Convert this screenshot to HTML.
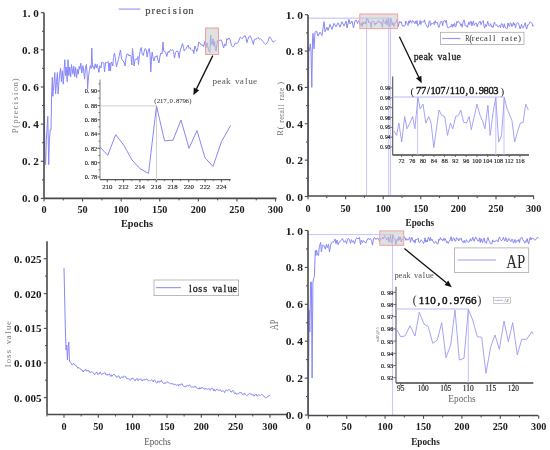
<!DOCTYPE html>
<html><head><meta charset="utf-8"><title>Training curves</title>
<style>html,body{margin:0;padding:0;background:#fff;}svg{display:block;}</style></head>
<body><svg width="550" height="450" viewBox="0 0 550 450">
<rect width="550" height="450" fill="#fff"/>
<line x1="100.00" y1="79.60" x2="100.00" y2="179.70" stroke="#8a8a8a" stroke-width="1.1" />
<line x1="100.00" y1="179.70" x2="230.70" y2="179.70" stroke="#555" stroke-width="1.3" />
<line x1="97.50" y1="91.00" x2="100.00" y2="91.00" stroke="#555" stroke-width="1" />
<text x="97.20" y="93.40" font-size="6.8" text-anchor="end" fill="#222" font-weight="normal" font-family='"Liberation Serif", serif' textLength="12.50" lengthAdjust="spacingAndGlyphs" stroke="#222" stroke-width="0.15">0. 90</text>
<line x1="97.50" y1="105.60" x2="100.00" y2="105.60" stroke="#555" stroke-width="1" />
<text x="97.20" y="108.00" font-size="6.8" text-anchor="end" fill="#222" font-weight="normal" font-family='"Liberation Serif", serif' textLength="12.50" lengthAdjust="spacingAndGlyphs" stroke="#222" stroke-width="0.15">0. 88</text>
<line x1="97.50" y1="119.80" x2="100.00" y2="119.80" stroke="#555" stroke-width="1" />
<text x="97.20" y="122.20" font-size="6.8" text-anchor="end" fill="#222" font-weight="normal" font-family='"Liberation Serif", serif' textLength="12.50" lengthAdjust="spacingAndGlyphs" stroke="#222" stroke-width="0.15">0. 86</text>
<line x1="97.50" y1="134.00" x2="100.00" y2="134.00" stroke="#555" stroke-width="1" />
<text x="97.20" y="136.40" font-size="6.8" text-anchor="end" fill="#222" font-weight="normal" font-family='"Liberation Serif", serif' textLength="12.50" lengthAdjust="spacingAndGlyphs" stroke="#222" stroke-width="0.15">0. 84</text>
<line x1="97.50" y1="148.30" x2="100.00" y2="148.30" stroke="#555" stroke-width="1" />
<text x="97.20" y="150.70" font-size="6.8" text-anchor="end" fill="#222" font-weight="normal" font-family='"Liberation Serif", serif' textLength="12.50" lengthAdjust="spacingAndGlyphs" stroke="#222" stroke-width="0.15">0. 82</text>
<line x1="97.50" y1="162.80" x2="100.00" y2="162.80" stroke="#555" stroke-width="1" />
<text x="97.20" y="165.20" font-size="6.8" text-anchor="end" fill="#222" font-weight="normal" font-family='"Liberation Serif", serif' textLength="12.50" lengthAdjust="spacingAndGlyphs" stroke="#222" stroke-width="0.15">0. 80</text>
<line x1="97.50" y1="177.00" x2="100.00" y2="177.00" stroke="#555" stroke-width="1" />
<text x="97.20" y="179.40" font-size="6.8" text-anchor="end" fill="#222" font-weight="normal" font-family='"Liberation Serif", serif' textLength="12.50" lengthAdjust="spacingAndGlyphs" stroke="#222" stroke-width="0.15">0. 78</text>
<line x1="98.50" y1="83.83" x2="100.00" y2="83.83" stroke="#666" stroke-width="0.9" />
<line x1="98.50" y1="98.16" x2="100.00" y2="98.16" stroke="#666" stroke-width="0.9" />
<line x1="98.50" y1="112.49" x2="100.00" y2="112.49" stroke="#666" stroke-width="0.9" />
<line x1="98.50" y1="126.82" x2="100.00" y2="126.82" stroke="#666" stroke-width="0.9" />
<line x1="98.50" y1="141.15" x2="100.00" y2="141.15" stroke="#666" stroke-width="0.9" />
<line x1="98.50" y1="155.48" x2="100.00" y2="155.48" stroke="#666" stroke-width="0.9" />
<line x1="98.50" y1="169.81" x2="100.00" y2="169.81" stroke="#666" stroke-width="0.9" />
<line x1="107.30" y1="179.70" x2="107.30" y2="182.20" stroke="#555" stroke-width="1" />
<text x="107.30" y="188.60" font-size="6.8" text-anchor="middle" fill="#222" font-weight="normal" font-family='"Liberation Serif", serif' stroke="#222" stroke-width="0.15">210</text>
<line x1="115.45" y1="179.70" x2="115.45" y2="181.20" stroke="#666" stroke-width="0.9" />
<line x1="123.60" y1="179.70" x2="123.60" y2="182.20" stroke="#555" stroke-width="1" />
<text x="123.60" y="188.60" font-size="6.8" text-anchor="middle" fill="#222" font-weight="normal" font-family='"Liberation Serif", serif' stroke="#222" stroke-width="0.15">212</text>
<line x1="131.75" y1="179.70" x2="131.75" y2="181.20" stroke="#666" stroke-width="0.9" />
<line x1="139.90" y1="179.70" x2="139.90" y2="182.20" stroke="#555" stroke-width="1" />
<text x="139.90" y="188.60" font-size="6.8" text-anchor="middle" fill="#222" font-weight="normal" font-family='"Liberation Serif", serif' stroke="#222" stroke-width="0.15">214</text>
<line x1="148.05" y1="179.70" x2="148.05" y2="181.20" stroke="#666" stroke-width="0.9" />
<line x1="156.20" y1="179.70" x2="156.20" y2="182.20" stroke="#555" stroke-width="1" />
<text x="156.20" y="188.60" font-size="6.8" text-anchor="middle" fill="#222" font-weight="normal" font-family='"Liberation Serif", serif' stroke="#222" stroke-width="0.15">216</text>
<line x1="164.35" y1="179.70" x2="164.35" y2="181.20" stroke="#666" stroke-width="0.9" />
<line x1="172.50" y1="179.70" x2="172.50" y2="182.20" stroke="#555" stroke-width="1" />
<text x="172.50" y="188.60" font-size="6.8" text-anchor="middle" fill="#222" font-weight="normal" font-family='"Liberation Serif", serif' stroke="#222" stroke-width="0.15">218</text>
<line x1="180.65" y1="179.70" x2="180.65" y2="181.20" stroke="#666" stroke-width="0.9" />
<line x1="188.80" y1="179.70" x2="188.80" y2="182.20" stroke="#555" stroke-width="1" />
<text x="188.80" y="188.60" font-size="6.8" text-anchor="middle" fill="#222" font-weight="normal" font-family='"Liberation Serif", serif' stroke="#222" stroke-width="0.15">220</text>
<line x1="196.95" y1="179.70" x2="196.95" y2="181.20" stroke="#666" stroke-width="0.9" />
<line x1="205.10" y1="179.70" x2="205.10" y2="182.20" stroke="#555" stroke-width="1" />
<text x="205.10" y="188.60" font-size="6.8" text-anchor="middle" fill="#222" font-weight="normal" font-family='"Liberation Serif", serif' stroke="#222" stroke-width="0.15">222</text>
<line x1="213.25" y1="179.70" x2="213.25" y2="181.20" stroke="#666" stroke-width="0.9" />
<line x1="221.40" y1="179.70" x2="221.40" y2="182.20" stroke="#555" stroke-width="1" />
<text x="221.40" y="188.60" font-size="6.8" text-anchor="middle" fill="#222" font-weight="normal" font-family='"Liberation Serif", serif' stroke="#222" stroke-width="0.15">224</text>
<line x1="229.55" y1="179.70" x2="229.55" y2="181.20" stroke="#666" stroke-width="0.9" />
<line x1="100.00" y1="105.90" x2="156.50" y2="105.90" stroke="#d0d0d0" stroke-width="1" />
<line x1="156.50" y1="105.90" x2="156.50" y2="179.70" stroke="#d0d0d0" stroke-width="1" />
<polyline points="100.00,147.00 107.70,155.40 115.70,134.70 124.00,145.50 132.00,160.00 140.00,168.70 148.50,173.40 156.50,105.90 164.50,140.80 173.00,140.20 181.00,120.00 189.00,148.30 197.00,130.60 205.00,157.80 213.00,166.50 221.50,141.50 230.70,125.40" fill="none" stroke="#8787fa" stroke-width="1.0" stroke-linejoin="round" />
<text x="155.30 158.50 161.70 164.90 168.10 171.30 174.50 177.70 180.90 184.10 187.30 190.50" y="102.60" font-size="6.8" text-anchor="middle" fill="#222" font-weight="normal" font-family='"Liberation Serif", serif' >(217,0.8796)</text>
<polyline points="44.00,87.00 44.80,150.00 45.60,164.70 46.30,140.00 47.10,128.00 47.80,116.40 48.70,164.70 49.40,140.00 50.20,130.00 51.00,130.00 51.60,96.00 52.30,77.40 52.80,96.30 53.80,85.30 54.80,72.50 55.60,93.90 56.50,81.70 57.40,72.50 58.10,93.90 58.70,85.30 59.60,74.30 60.50,68.20 61.40,81.70 62.30,70.70 63.30,84.10 64.20,69.40 64.80,59.70 65.50,75.60 66.20,67.00 67.20,81.70 68.00,59.70 68.80,75.60 69.70,67.00 70.70,76.80 71.50,64.60 72.00,68.10 73.00,74.20 73.80,66.30 74.70,76.70 75.70,67.50 76.60,77.90 77.50,69.30 78.40,74.20 79.10,66.30 79.90,69.30 80.80,63.20 81.80,73.00 82.80,65.70 83.60,70.00 84.60,79.10 85.40,68.10 86.40,64.40 87.20,75.50 87.60,88.90 88.50,76.70 89.40,70.60 90.30,65.70 91.20,68.70 91.80,48.00 92.50,66.90 93.40,66.30 94.20,69.30 95.20,63.80 96.20,68.10 97.10,64.40 97.90,67.50 98.90,72.40 99.90,65.70 101.00,68.00 101.80,62.00 102.80,62.50 103.80,63.00 104.50,72.00 105.50,62.50 106.50,63.00 107.50,62.00 108.20,61.50 109.00,71.00 109.80,63.00 110.50,71.00 111.20,62.00 112.00,63.00 112.80,66.00 113.50,57.50 114.50,53.00 115.50,59.00 116.50,67.00 117.50,62.50 118.50,59.50 119.50,54.00 120.50,50.00 121.50,59.00 123.00,61.00 124.00,62.00 125.00,66.00 126.00,58.00 127.00,54.00 128.00,54.00 129.00,56.00 130.00,55.00 131.00,56.50 131.80,65.00 132.50,48.50 133.30,56.00 134.00,66.00 135.00,59.50 136.00,59.50 137.00,59.00 137.80,56.50 138.50,64.50 139.50,54.50 140.50,49.00 141.30,47.50 142.20,54.50 143.20,55.50 144.20,51.50 145.20,48.50 146.20,50.00 147.20,57.00 148.20,51.00 149.20,48.50 150.00,54.00 150.80,72.00 151.50,58.00 152.20,52.00 153.00,58.00 154.00,61.00 155.00,56.50 156.00,57.00 157.00,55.50 158.00,60.00 159.00,63.00 160.00,56.00 161.00,53.00 162.00,54.00 163.00,42.00 163.50,50.00 164.50,52.00 165.50,52.00 166.80,56.50 168.00,51.50 169.20,52.50 170.50,49.50 171.50,50.50 172.50,49.50 173.50,51.50 174.50,58.00 175.50,52.50 176.80,51.00 178.00,51.50 179.20,58.00 180.20,50.00 181.20,48.00 182.50,43.50 183.50,47.50 184.20,51.00 185.20,49.50 186.20,48.50 187.20,46.50 188.20,45.00 189.00,48.50 190.00,47.50 191.00,49.50 192.00,50.50 193.00,50.00 193.80,53.50 194.80,46.00 195.80,48.50 196.80,51.50 197.80,47.50 198.80,42.00 200.00,43.00 201.20,45.00 202.50,45.00 203.50,46.50 204.80,41.50 205.29,45.94 206.06,47.80 206.83,42.78 207.60,45.20 208.37,49.47 209.14,51.51 209.92,52.63 210.69,35.06 211.46,44.45 212.23,44.27 213.00,38.70 213.77,46.13 214.55,41.48 215.32,48.73 216.09,50.95 216.86,44.64 217.63,40.37 218.00,41.50 219.70,40.40 221.10,39.80 222.30,42.70 223.50,48.00 225.00,43.90 225.90,45.70 226.80,38.60 227.80,39.80 229.00,38.00 230.10,39.80 231.50,45.70 232.70,46.90 234.10,45.70 235.30,42.70 236.50,43.90 237.70,42.70 238.90,40.40 240.10,37.40 241.20,38.00 242.40,38.60 244.00,36.20 245.10,35.60 246.00,38.00 246.90,42.70 247.90,39.20 249.30,36.20 250.50,36.20 251.60,39.20 252.60,41.50 253.40,44.50 254.20,39.80 255.80,39.20 257.00,38.60 258.10,37.40 259.30,39.20 260.50,38.60 261.70,39.80 262.90,41.50 264.40,43.30 265.60,44.50 266.80,43.30 268.00,41.50 269.40,36.80 270.60,38.00 271.70,39.80 273.20,42.10 274.10,41.50 275.50,40.40" fill="none" stroke="#8787fa" stroke-width="1.0" stroke-linejoin="round" />
<line x1="44.00" y1="12.70" x2="44.00" y2="198.40" stroke="#4a4a4a" stroke-width="1.6" />
<line x1="40.80" y1="198.40" x2="44.00" y2="198.40" stroke="#4a4a4a" stroke-width="1.1" />
<line x1="40.80" y1="161.26" x2="44.00" y2="161.26" stroke="#4a4a4a" stroke-width="1.1" />
<line x1="40.80" y1="124.12" x2="44.00" y2="124.12" stroke="#4a4a4a" stroke-width="1.1" />
<line x1="40.80" y1="86.98" x2="44.00" y2="86.98" stroke="#4a4a4a" stroke-width="1.1" />
<line x1="40.80" y1="49.84" x2="44.00" y2="49.84" stroke="#4a4a4a" stroke-width="1.1" />
<line x1="40.80" y1="12.70" x2="44.00" y2="12.70" stroke="#4a4a4a" stroke-width="1.1" />
<line x1="42.00" y1="179.83" x2="44.00" y2="179.83" stroke="#4a4a4a" stroke-width="1.0" />
<line x1="42.00" y1="142.69" x2="44.00" y2="142.69" stroke="#4a4a4a" stroke-width="1.0" />
<line x1="42.00" y1="105.55" x2="44.00" y2="105.55" stroke="#4a4a4a" stroke-width="1.0" />
<line x1="42.00" y1="68.41" x2="44.00" y2="68.41" stroke="#4a4a4a" stroke-width="1.0" />
<line x1="42.00" y1="31.27" x2="44.00" y2="31.27" stroke="#4a4a4a" stroke-width="1.0" />
<line x1="44.00" y1="198.40" x2="276.50" y2="198.40" stroke="#4a4a4a" stroke-width="1.6" />
<line x1="44.00" y1="198.40" x2="44.00" y2="201.60" stroke="#4a4a4a" stroke-width="1.1" />
<line x1="82.59" y1="198.40" x2="82.59" y2="201.60" stroke="#4a4a4a" stroke-width="1.1" />
<line x1="121.17" y1="198.40" x2="121.17" y2="201.60" stroke="#4a4a4a" stroke-width="1.1" />
<line x1="159.75" y1="198.40" x2="159.75" y2="201.60" stroke="#4a4a4a" stroke-width="1.1" />
<line x1="198.34" y1="198.40" x2="198.34" y2="201.60" stroke="#4a4a4a" stroke-width="1.1" />
<line x1="236.93" y1="198.40" x2="236.93" y2="201.60" stroke="#4a4a4a" stroke-width="1.1" />
<line x1="275.51" y1="198.40" x2="275.51" y2="201.60" stroke="#4a4a4a" stroke-width="1.1" />
<line x1="63.29" y1="198.40" x2="63.29" y2="200.40" stroke="#4a4a4a" stroke-width="1.0" />
<line x1="101.88" y1="198.40" x2="101.88" y2="200.40" stroke="#4a4a4a" stroke-width="1.0" />
<line x1="140.46" y1="198.40" x2="140.46" y2="200.40" stroke="#4a4a4a" stroke-width="1.0" />
<line x1="179.05" y1="198.40" x2="179.05" y2="200.40" stroke="#4a4a4a" stroke-width="1.0" />
<line x1="217.63" y1="198.40" x2="217.63" y2="200.40" stroke="#4a4a4a" stroke-width="1.0" />
<line x1="256.22" y1="198.40" x2="256.22" y2="200.40" stroke="#4a4a4a" stroke-width="1.0" />
<text x="38.90" y="202.40" font-size="11.4" text-anchor="end" fill="#1a1a1a" font-weight="bold" font-family='"Liberation Serif", serif' textLength="16.80" lengthAdjust="spacingAndGlyphs" >0. 0</text>
<text x="38.90" y="165.26" font-size="11.4" text-anchor="end" fill="#1a1a1a" font-weight="bold" font-family='"Liberation Serif", serif' textLength="16.80" lengthAdjust="spacingAndGlyphs" >0. 2</text>
<text x="38.90" y="128.12" font-size="11.4" text-anchor="end" fill="#1a1a1a" font-weight="bold" font-family='"Liberation Serif", serif' textLength="16.80" lengthAdjust="spacingAndGlyphs" >0. 4</text>
<text x="38.90" y="90.98" font-size="11.4" text-anchor="end" fill="#1a1a1a" font-weight="bold" font-family='"Liberation Serif", serif' textLength="16.80" lengthAdjust="spacingAndGlyphs" >0. 6</text>
<text x="38.90" y="53.84" font-size="11.4" text-anchor="end" fill="#1a1a1a" font-weight="bold" font-family='"Liberation Serif", serif' textLength="16.80" lengthAdjust="spacingAndGlyphs" >0. 8</text>
<text x="38.90" y="16.70" font-size="11.4" text-anchor="end" fill="#1a1a1a" font-weight="bold" font-family='"Liberation Serif", serif' textLength="16.80" lengthAdjust="spacingAndGlyphs" >1. 0</text>
<text x="44.00" y="212.80" font-size="11.4" text-anchor="middle" fill="#1a1a1a" font-weight="bold" font-family='"Liberation Serif", serif' textLength="5.10" lengthAdjust="spacingAndGlyphs" >0</text>
<text x="82.59" y="212.80" font-size="11.4" text-anchor="middle" fill="#1a1a1a" font-weight="bold" font-family='"Liberation Serif", serif' textLength="10.20" lengthAdjust="spacingAndGlyphs" >50</text>
<text x="121.17" y="212.80" font-size="11.4" text-anchor="middle" fill="#1a1a1a" font-weight="bold" font-family='"Liberation Serif", serif' textLength="15.30" lengthAdjust="spacingAndGlyphs" >100</text>
<text x="159.75" y="212.80" font-size="11.4" text-anchor="middle" fill="#1a1a1a" font-weight="bold" font-family='"Liberation Serif", serif' textLength="15.30" lengthAdjust="spacingAndGlyphs" >150</text>
<text x="198.34" y="212.80" font-size="11.4" text-anchor="middle" fill="#1a1a1a" font-weight="bold" font-family='"Liberation Serif", serif' textLength="15.30" lengthAdjust="spacingAndGlyphs" >200</text>
<text x="236.93" y="212.80" font-size="11.4" text-anchor="middle" fill="#1a1a1a" font-weight="bold" font-family='"Liberation Serif", serif' textLength="15.30" lengthAdjust="spacingAndGlyphs" >250</text>
<text x="275.51" y="212.80" font-size="11.4" text-anchor="middle" fill="#1a1a1a" font-weight="bold" font-family='"Liberation Serif", serif' textLength="15.30" lengthAdjust="spacingAndGlyphs" >300</text>
<text x="137.00" y="226.50" font-size="11" text-anchor="middle" fill="#222" font-weight="bold" font-family='"Liberation Serif", serif' textLength="32.00" lengthAdjust="spacingAndGlyphs" >Epochs</text>
<text x="-6.80 -2.16 2.48 7.12 11.76 16.40 21.04 25.68 30.32 34.96 39.60 44.24" y="106.00" font-size="8.8" text-anchor="middle" fill="#777" font-weight="normal" font-family='"Liberation Serif", serif' transform="rotate(-90 18.00 106.00)" >P(precision)</text>
<line x1="118.70" y1="9.10" x2="140.40" y2="9.10" stroke="#9a9af8" stroke-width="1.2" />
<text x="147.80 153.18 158.55 163.93 169.30 174.68 180.05 185.43 190.80" y="13.60" font-size="10.5" text-anchor="middle" fill="#484848" font-weight="normal" font-family='"Liberation Serif", serif' stroke="#484848" stroke-width="0.2">precision</text>
<rect x="205.50" y="28.00" width="13.00" height="26.50" fill="rgba(200,200,200,0.55)" stroke="#f0a0a0" stroke-width="1" />
<line x1="212.80" y1="55.60" x2="196.48" y2="88.91" stroke="#111" stroke-width="1.3" />
<polygon points="193.40,95.20 193.79,87.59 199.17,90.23" fill="#111"/>
<text x="214.90 219.37 223.84 228.31 232.78 237.25 241.72 246.19 250.66 255.13" y="83.50" font-size="9.2" text-anchor="middle" fill="#555" font-weight="normal" font-family='"Liberation Serif", serif' >peak value</text>
<line x1="308.00" y1="18.20" x2="390.60" y2="18.20" stroke="#bcbcff" stroke-width="1" />
<line x1="366.60" y1="18.20" x2="366.60" y2="196.00" stroke="#c4c4ff" stroke-width="1" />
<line x1="388.70" y1="18.20" x2="388.70" y2="196.00" stroke="#c4c4ff" stroke-width="1" />
<line x1="390.60" y1="18.20" x2="390.60" y2="196.00" stroke="#c4c4ff" stroke-width="1" />
<polyline points="308.00,196.50 308.75,47.40 309.50,51.10 310.30,43.80 311.00,51.10 311.80,87.40 312.50,40.20 313.00,33.30 314.00,48.90 315.00,32.20 316.50,31.10 318.00,36.00 320.00,32.20 322.00,35.60 324.00,21.70 325.00,31.70 327.00,27.20 328.00,30.60 330.00,24.40 332.00,29.40 334.00,23.30 336.00,26.70 338.00,22.80 340.00,27.20 342.00,21.70 344.00,26.10 346.00,21.10 347.00,27.80 349.00,19.40 350.00,24.00 352.00,21.00 353.50,28.00 355.00,20.70 356.50,20.30 357.50,23.50 358.50,20.70 359.14,21.16 359.89,24.42 360.64,25.29 361.39,23.02 362.14,26.52 362.90,21.79 363.65,24.07 364.40,23.02 365.15,21.79 365.90,24.07 366.66,18.29 367.41,20.40 368.16,19.51 368.91,23.02 369.66,21.79 370.42,23.02 371.17,27.56 371.92,21.87 372.67,20.59 373.42,21.63 374.18,21.79 374.93,25.29 375.68,23.02 376.43,24.07 377.18,21.79 377.94,21.63 378.69,20.59 379.44,22.85 380.19,23.02 380.94,21.79 381.70,24.24 382.45,27.39 383.20,19.51 383.95,21.44 384.70,22.50 385.46,24.07 386.21,19.70 386.96,25.29 387.71,21.09 388.46,18.29 389.22,26.52 389.97,25.29 390.72,18.29 391.47,20.40 392.22,25.04 392.98,22.50 393.73,26.52 394.48,24.59 395.23,23.02 395.98,22.85 396.74,19.51 397.49,20.57 398.24,26.54 398.99,23.56 399.74,21.48 400.50,22.88 401.25,21.76 402.00,25.04 402.75,26.23 403.50,25.40 404.26,26.48 405.01,25.60 405.76,20.98 406.51,22.31 407.26,24.39 408.02,25.52 408.77,20.93 409.52,23.23 410.27,20.05 411.02,22.46 411.78,23.14 412.53,20.63 413.28,20.99 414.03,22.27 414.78,23.77 415.54,20.96 416.29,23.49 417.04,20.56 417.79,25.85 418.54,24.83 419.30,23.88 420.05,20.48 420.80,24.52 421.55,21.72 422.30,21.82 423.06,21.55 423.81,22.11 424.56,19.80 425.31,23.74 426.06,24.44 426.82,26.07 427.57,27.66 428.32,26.96 429.07,21.68 429.82,20.64 430.58,25.59 431.33,23.52 432.08,23.81 432.83,23.06 433.58,22.37 434.34,24.71 435.09,20.68 435.84,23.06 436.59,22.60 437.34,22.41 438.10,25.62 438.85,27.47 439.60,25.49 440.35,22.35 441.10,21.04 441.86,21.27 442.61,25.80 443.36,21.37 444.11,20.85 444.86,20.15 445.62,22.50 446.37,20.37 447.12,26.02 447.87,27.83 448.62,27.96 449.38,26.96 450.13,26.54 450.88,26.86 451.63,24.21 452.38,27.24 453.14,24.16 453.89,26.31 454.64,23.25 455.39,27.09 456.14,26.14 456.90,21.32 457.65,22.77 458.40,21.23 459.15,21.90 459.90,22.45 460.66,25.67 461.41,23.87 462.16,27.21 462.91,22.72 463.66,20.24 464.42,20.27 465.17,26.10 465.92,25.78 466.67,25.85 467.42,27.37 468.18,24.12 468.93,21.92 469.68,24.77 470.43,21.67 471.18,21.23 471.94,25.94 472.69,22.75 473.44,20.97 474.19,25.41 474.94,24.03 475.70,23.16 476.45,23.12 477.20,26.83 477.95,23.87 478.70,23.21 479.46,21.64 480.21,21.32 480.96,24.69 481.71,22.84 482.46,21.25 483.22,20.59 483.97,25.69 484.72,28.20 485.47,24.44 486.22,26.48 486.98,24.57 487.73,21.25 488.48,24.35 489.23,26.20 489.98,25.29 490.74,23.57 491.49,27.08 492.24,26.12 492.99,27.62 493.74,24.26 494.50,22.04 495.25,24.66 496.00,25.49 496.75,24.53 497.50,26.60 498.26,26.99 499.01,26.52 499.76,25.46 500.51,27.87 501.26,23.74 502.02,23.77 502.77,25.80 503.52,28.02 504.27,23.74 505.02,27.03 505.78,28.01 506.53,28.33 507.28,28.79 508.03,22.96 508.78,25.83 509.54,26.43 510.29,22.81 511.04,23.27 511.79,26.62 512.54,25.89 513.30,22.48 514.05,25.20 514.80,23.65 515.55,27.68 516.30,24.39 517.06,23.11 517.81,22.43 518.56,23.38 519.31,25.92 520.06,28.95 520.82,26.64 521.57,24.28 522.32,27.72 523.07,28.22 523.82,26.45 524.58,24.41 525.33,22.75 526.08,27.85 526.83,28.98 527.58,24.90 528.34,24.82 529.09,24.27 529.84,22.14 530.59,22.17 531.34,22.60 532.10,23.30 532.85,26.30 533.60,25.44" fill="none" stroke="#8787fa" stroke-width="1.0" stroke-linejoin="round" />
<rect x="359.80" y="14.00" width="37.90" height="14.60" fill="rgba(200,200,200,0.55)" stroke="#f0a0a0" stroke-width="1" />
<line x1="308.00" y1="15.00" x2="308.00" y2="196.00" stroke="#4a4a4a" stroke-width="1.6" />
<line x1="304.80" y1="196.50" x2="308.00" y2="196.50" stroke="#4a4a4a" stroke-width="1.1" />
<line x1="304.80" y1="160.14" x2="308.00" y2="160.14" stroke="#4a4a4a" stroke-width="1.1" />
<line x1="304.80" y1="123.78" x2="308.00" y2="123.78" stroke="#4a4a4a" stroke-width="1.1" />
<line x1="304.80" y1="87.42" x2="308.00" y2="87.42" stroke="#4a4a4a" stroke-width="1.1" />
<line x1="304.80" y1="51.06" x2="308.00" y2="51.06" stroke="#4a4a4a" stroke-width="1.1" />
<line x1="304.80" y1="14.70" x2="308.00" y2="14.70" stroke="#4a4a4a" stroke-width="1.1" />
<line x1="306.00" y1="178.32" x2="308.00" y2="178.32" stroke="#4a4a4a" stroke-width="1.0" />
<line x1="306.00" y1="141.96" x2="308.00" y2="141.96" stroke="#4a4a4a" stroke-width="1.0" />
<line x1="306.00" y1="105.60" x2="308.00" y2="105.60" stroke="#4a4a4a" stroke-width="1.0" />
<line x1="306.00" y1="69.24" x2="308.00" y2="69.24" stroke="#4a4a4a" stroke-width="1.0" />
<line x1="306.00" y1="32.88" x2="308.00" y2="32.88" stroke="#4a4a4a" stroke-width="1.0" />
<line x1="308.00" y1="196.00" x2="534.00" y2="196.00" stroke="#4a4a4a" stroke-width="1.6" />
<line x1="308.00" y1="196.00" x2="308.00" y2="199.20" stroke="#4a4a4a" stroke-width="1.1" />
<line x1="345.60" y1="196.00" x2="345.60" y2="199.20" stroke="#4a4a4a" stroke-width="1.1" />
<line x1="383.20" y1="196.00" x2="383.20" y2="199.20" stroke="#4a4a4a" stroke-width="1.1" />
<line x1="420.80" y1="196.00" x2="420.80" y2="199.20" stroke="#4a4a4a" stroke-width="1.1" />
<line x1="458.40" y1="196.00" x2="458.40" y2="199.20" stroke="#4a4a4a" stroke-width="1.1" />
<line x1="496.00" y1="196.00" x2="496.00" y2="199.20" stroke="#4a4a4a" stroke-width="1.1" />
<line x1="533.60" y1="196.00" x2="533.60" y2="199.20" stroke="#4a4a4a" stroke-width="1.1" />
<line x1="326.80" y1="196.00" x2="326.80" y2="198.00" stroke="#4a4a4a" stroke-width="1.0" />
<line x1="364.40" y1="196.00" x2="364.40" y2="198.00" stroke="#4a4a4a" stroke-width="1.0" />
<line x1="402.00" y1="196.00" x2="402.00" y2="198.00" stroke="#4a4a4a" stroke-width="1.0" />
<line x1="439.60" y1="196.00" x2="439.60" y2="198.00" stroke="#4a4a4a" stroke-width="1.0" />
<line x1="477.20" y1="196.00" x2="477.20" y2="198.00" stroke="#4a4a4a" stroke-width="1.0" />
<line x1="514.80" y1="196.00" x2="514.80" y2="198.00" stroke="#4a4a4a" stroke-width="1.0" />
<text x="303.00" y="200.50" font-size="11.4" text-anchor="end" fill="#1a1a1a" font-weight="bold" font-family='"Liberation Serif", serif' textLength="17.30" lengthAdjust="spacingAndGlyphs" >0. 0</text>
<text x="303.00" y="164.14" font-size="11.4" text-anchor="end" fill="#1a1a1a" font-weight="bold" font-family='"Liberation Serif", serif' textLength="17.30" lengthAdjust="spacingAndGlyphs" >0. 2</text>
<text x="303.00" y="127.78" font-size="11.4" text-anchor="end" fill="#1a1a1a" font-weight="bold" font-family='"Liberation Serif", serif' textLength="17.30" lengthAdjust="spacingAndGlyphs" >0. 4</text>
<text x="303.00" y="91.42" font-size="11.4" text-anchor="end" fill="#1a1a1a" font-weight="bold" font-family='"Liberation Serif", serif' textLength="17.30" lengthAdjust="spacingAndGlyphs" >0. 6</text>
<text x="303.00" y="55.06" font-size="11.4" text-anchor="end" fill="#1a1a1a" font-weight="bold" font-family='"Liberation Serif", serif' textLength="17.30" lengthAdjust="spacingAndGlyphs" >0. 8</text>
<text x="303.00" y="18.70" font-size="11.4" text-anchor="end" fill="#1a1a1a" font-weight="bold" font-family='"Liberation Serif", serif' textLength="17.30" lengthAdjust="spacingAndGlyphs" >1. 0</text>
<text x="308.00" y="211.80" font-size="11.4" text-anchor="middle" fill="#1a1a1a" font-weight="bold" font-family='"Liberation Serif", serif' textLength="5.10" lengthAdjust="spacingAndGlyphs" >0</text>
<text x="345.60" y="211.80" font-size="11.4" text-anchor="middle" fill="#1a1a1a" font-weight="bold" font-family='"Liberation Serif", serif' textLength="10.20" lengthAdjust="spacingAndGlyphs" >50</text>
<text x="383.20" y="211.80" font-size="11.4" text-anchor="middle" fill="#1a1a1a" font-weight="bold" font-family='"Liberation Serif", serif' textLength="15.30" lengthAdjust="spacingAndGlyphs" >100</text>
<text x="420.80" y="211.80" font-size="11.4" text-anchor="middle" fill="#1a1a1a" font-weight="bold" font-family='"Liberation Serif", serif' textLength="15.30" lengthAdjust="spacingAndGlyphs" >150</text>
<text x="458.40" y="211.80" font-size="11.4" text-anchor="middle" fill="#1a1a1a" font-weight="bold" font-family='"Liberation Serif", serif' textLength="15.30" lengthAdjust="spacingAndGlyphs" >200</text>
<text x="496.00" y="211.80" font-size="11.4" text-anchor="middle" fill="#1a1a1a" font-weight="bold" font-family='"Liberation Serif", serif' textLength="15.30" lengthAdjust="spacingAndGlyphs" >250</text>
<text x="533.60" y="211.80" font-size="11.4" text-anchor="middle" fill="#1a1a1a" font-weight="bold" font-family='"Liberation Serif", serif' textLength="15.30" lengthAdjust="spacingAndGlyphs" >300</text>
<text x="419.80" y="226.00" font-size="11" text-anchor="middle" fill="#222" font-weight="bold" font-family='"Liberation Serif", serif' textLength="28.50" lengthAdjust="spacingAndGlyphs" >Epochs</text>
<text x="257.50 262.40" y="107.00" font-size="8.5" text-anchor="middle" fill="#707070" font-weight="normal" font-family='"Liberation Serif", serif' transform="rotate(-90 283.30 107.00)" >R(</text>
<text x="269.40 272.60 275.80 279.00 282.20 285.40 288.60 291.80 295.00 298.20 301.40" y="107.00" font-size="7.4" text-anchor="middle" fill="#707070" font-weight="normal" font-family='"Liberation Serif", serif' transform="rotate(-90 283.80 107.00)" >recall rate</text>
<text x="307.00" y="107.00" font-size="8.5" text-anchor="middle" fill="#707070" font-weight="normal" font-family='"Liberation Serif", serif' transform="rotate(-90 283.30 107.00)" >)</text>
<rect x="440.40" y="32.30" width="83.60" height="12.20" fill="white" stroke="#aaa" stroke-width="0.8" />
<line x1="442.30" y1="38.50" x2="460.50" y2="38.50" stroke="#9a9af8" stroke-width="1.2" />
<text x="467.40" y="41.40" font-size="8.6" text-anchor="middle" fill="#333" font-weight="normal" font-family='"Liberation Serif", serif' transform="translate(467.4 0) scale(0.72 1) translate(-467.4 0)">R</text>
<text x="470.90" y="41.60" font-size="9.5" text-anchor="middle" fill="#333" font-weight="normal" font-family='"Liberation Serif", serif' >(</text>
<text x="473.30 477.50 481.70 485.90 490.10 494.30 498.50 502.70 506.90 511.10 515.30" y="41.40" font-size="8.6" text-anchor="middle" fill="#333" font-weight="normal" font-family='"Liberation Serif", serif' >recall rate</text>
<text x="519.40" y="41.40" font-size="9" text-anchor="middle" fill="#333" font-weight="normal" font-family='"Liberation Serif", serif' >)</text>
<line x1="399.40" y1="36.70" x2="418.68" y2="76.99" stroke="#111" stroke-width="1.3" />
<polygon points="421.70,83.30 415.97,78.28 421.38,75.69" fill="#111"/>
<text x="416.20 420.93 425.66 430.39 435.12 439.85 444.58 449.31 454.04 458.77" y="59.80" font-size="9.8" text-anchor="middle" fill="#222" font-weight="normal" font-family='"Liberation Serif", serif' stroke="#222" stroke-width="0.3">peak value</text>
<line x1="392.70" y1="76.50" x2="392.70" y2="155.00" stroke="#555" stroke-width="1.1" />
<line x1="392.70" y1="155.00" x2="529.00" y2="155.00" stroke="#444" stroke-width="1.3" />
<line x1="390.50" y1="88.00" x2="392.70" y2="88.00" stroke="#555" stroke-width="0.9" />
<text x="390.40" y="90.20" font-size="6.3" text-anchor="end" fill="#222" font-weight="normal" font-family='"Liberation Serif", serif' textLength="10.20" lengthAdjust="spacingAndGlyphs" stroke="#222" stroke-width="0.2">0. 99</text>
<line x1="390.50" y1="97.82" x2="392.70" y2="97.82" stroke="#555" stroke-width="0.9" />
<text x="390.40" y="100.02" font-size="6.3" text-anchor="end" fill="#222" font-weight="normal" font-family='"Liberation Serif", serif' textLength="10.20" lengthAdjust="spacingAndGlyphs" stroke="#222" stroke-width="0.2">0. 98</text>
<line x1="390.50" y1="107.64" x2="392.70" y2="107.64" stroke="#555" stroke-width="0.9" />
<text x="390.40" y="109.84" font-size="6.3" text-anchor="end" fill="#222" font-weight="normal" font-family='"Liberation Serif", serif' textLength="10.20" lengthAdjust="spacingAndGlyphs" stroke="#222" stroke-width="0.2">0. 97</text>
<line x1="390.50" y1="117.46" x2="392.70" y2="117.46" stroke="#555" stroke-width="0.9" />
<text x="390.40" y="119.66" font-size="6.3" text-anchor="end" fill="#222" font-weight="normal" font-family='"Liberation Serif", serif' textLength="10.20" lengthAdjust="spacingAndGlyphs" stroke="#222" stroke-width="0.2">0. 96</text>
<line x1="390.50" y1="127.28" x2="392.70" y2="127.28" stroke="#555" stroke-width="0.9" />
<text x="390.40" y="129.48" font-size="6.3" text-anchor="end" fill="#222" font-weight="normal" font-family='"Liberation Serif", serif' textLength="10.20" lengthAdjust="spacingAndGlyphs" stroke="#222" stroke-width="0.2">0. 95</text>
<line x1="390.50" y1="137.10" x2="392.70" y2="137.10" stroke="#555" stroke-width="0.9" />
<text x="390.40" y="139.30" font-size="6.3" text-anchor="end" fill="#222" font-weight="normal" font-family='"Liberation Serif", serif' textLength="10.20" lengthAdjust="spacingAndGlyphs" stroke="#222" stroke-width="0.2">0. 94</text>
<line x1="390.50" y1="146.92" x2="392.70" y2="146.92" stroke="#555" stroke-width="0.9" />
<text x="390.40" y="149.12" font-size="6.3" text-anchor="end" fill="#222" font-weight="normal" font-family='"Liberation Serif", serif' textLength="10.20" lengthAdjust="spacingAndGlyphs" stroke="#222" stroke-width="0.2">0. 93</text>
<line x1="401.60" y1="155.00" x2="401.60" y2="157.00" stroke="#555" stroke-width="0.9" />
<text x="401.60" y="163.20" font-size="6.2" text-anchor="middle" fill="#222" font-weight="normal" font-family='"Liberation Serif", serif' stroke="#222" stroke-width="0.15">72</text>
<line x1="412.36" y1="155.00" x2="412.36" y2="157.00" stroke="#555" stroke-width="0.9" />
<text x="412.36" y="163.20" font-size="6.2" text-anchor="middle" fill="#222" font-weight="normal" font-family='"Liberation Serif", serif' stroke="#222" stroke-width="0.15">76</text>
<line x1="423.12" y1="155.00" x2="423.12" y2="157.00" stroke="#555" stroke-width="0.9" />
<text x="423.12" y="163.20" font-size="6.2" text-anchor="middle" fill="#222" font-weight="normal" font-family='"Liberation Serif", serif' stroke="#222" stroke-width="0.15">80</text>
<line x1="433.88" y1="155.00" x2="433.88" y2="157.00" stroke="#555" stroke-width="0.9" />
<text x="433.88" y="163.20" font-size="6.2" text-anchor="middle" fill="#222" font-weight="normal" font-family='"Liberation Serif", serif' stroke="#222" stroke-width="0.15">84</text>
<line x1="444.64" y1="155.00" x2="444.64" y2="157.00" stroke="#555" stroke-width="0.9" />
<text x="444.64" y="163.20" font-size="6.2" text-anchor="middle" fill="#222" font-weight="normal" font-family='"Liberation Serif", serif' stroke="#222" stroke-width="0.15">88</text>
<line x1="455.40" y1="155.00" x2="455.40" y2="157.00" stroke="#555" stroke-width="0.9" />
<text x="455.40" y="163.20" font-size="6.2" text-anchor="middle" fill="#222" font-weight="normal" font-family='"Liberation Serif", serif' stroke="#222" stroke-width="0.15">92</text>
<line x1="466.16" y1="155.00" x2="466.16" y2="157.00" stroke="#555" stroke-width="0.9" />
<text x="466.16" y="163.20" font-size="6.2" text-anchor="middle" fill="#222" font-weight="normal" font-family='"Liberation Serif", serif' stroke="#222" stroke-width="0.15">96</text>
<line x1="476.92" y1="155.00" x2="476.92" y2="157.00" stroke="#555" stroke-width="0.9" />
<text x="476.92" y="163.20" font-size="6.2" text-anchor="middle" fill="#222" font-weight="normal" font-family='"Liberation Serif", serif' stroke="#222" stroke-width="0.15">100</text>
<line x1="487.68" y1="155.00" x2="487.68" y2="157.00" stroke="#555" stroke-width="0.9" />
<text x="487.68" y="163.20" font-size="6.2" text-anchor="middle" fill="#222" font-weight="normal" font-family='"Liberation Serif", serif' stroke="#222" stroke-width="0.15">104</text>
<line x1="498.44" y1="155.00" x2="498.44" y2="157.00" stroke="#555" stroke-width="0.9" />
<text x="498.44" y="163.20" font-size="6.2" text-anchor="middle" fill="#222" font-weight="normal" font-family='"Liberation Serif", serif' stroke="#222" stroke-width="0.15">108</text>
<line x1="509.20" y1="155.00" x2="509.20" y2="157.00" stroke="#555" stroke-width="0.9" />
<text x="509.20" y="163.20" font-size="6.2" text-anchor="middle" fill="#222" font-weight="normal" font-family='"Liberation Serif", serif' stroke="#222" stroke-width="0.15">112</text>
<line x1="519.96" y1="155.00" x2="519.96" y2="157.00" stroke="#555" stroke-width="0.9" />
<text x="519.96" y="163.20" font-size="6.2" text-anchor="middle" fill="#222" font-weight="normal" font-family='"Liberation Serif", serif' stroke="#222" stroke-width="0.15">116</text>
<line x1="392.70" y1="97.00" x2="504.30" y2="97.00" stroke="#b8b8ff" stroke-width="1" />
<line x1="417.60" y1="97.00" x2="417.60" y2="155.00" stroke="#c4c4ff" stroke-width="1" />
<line x1="495.80" y1="97.00" x2="495.80" y2="155.00" stroke="#c4c4ff" stroke-width="1" />
<line x1="504.00" y1="97.00" x2="504.00" y2="155.00" stroke="#c4c4ff" stroke-width="1" />
<polyline points="393.80,130.70 396.60,135.40 398.90,123.10 401.70,142.00 404.70,116.50 407.00,128.80 409.80,123.10 412.60,116.50 414.90,128.80 417.90,97.60 420.20,109.00 423.00,104.20 425.80,123.10 428.70,116.50 431.10,123.10 433.80,147.60 439.00,110.00 441.90,115.60 444.70,116.50 447.50,135.40 450.40,123.10 452.80,128.80 455.70,116.50 458.30,115.60 460.80,110.00 463.60,122.20 466.40,123.10 469.20,116.50 471.30,129.70 477.00,104.20 479.80,114.60 482.30,120.30 484.90,128.80 487.90,105.20 490.20,135.40 493.00,112.70 495.80,97.60 498.70,142.00 501.50,135.40 504.30,97.60 507.20,109.00 511.90,120.30 514.70,142.00 517.50,131.60 520.40,123.10 523.20,122.20 525.70,104.20 528.30,109.90" fill="none" stroke="#9a9af5" stroke-width="0.9" stroke-linejoin="round" />
<text x="410.40" y="94.60" font-size="11" text-anchor="start" fill="#222" font-weight="normal" font-family='"Liberation Serif", serif' >(</text>
<text x="418.70 423.52 428.34 433.16 437.98 442.80 447.62 452.44 457.26 462.08 466.90 471.72 476.54 481.36 486.18 491.00 495.82" y="94.30" font-size="10.5" text-anchor="middle" fill="#111" font-weight="normal" font-family='"Liberation Serif", serif' stroke="#111" stroke-width="0.35">77/107/110,0.9803</text>
<text x="500.60" y="94.60" font-size="11" text-anchor="start" fill="#222" font-weight="normal" font-family='"Liberation Serif", serif' >)</text>
<polyline points="64.00,268.00 64.69,300.00 65.37,330.00 66.06,350.00 66.75,345.00 67.43,360.00 68.12,348.00 68.81,342.00 69.49,361.00 70.18,362.00 70.86,362.85 71.55,363.87 72.24,364.95 72.92,364.08 73.61,363.30 74.30,364.76 74.98,365.09 75.67,364.97 76.36,366.37 77.04,366.64 77.73,368.33 78.42,367.26 79.10,368.07 79.79,368.57 80.48,368.76 81.16,369.84 81.85,369.66 82.54,371.07 83.22,371.86 83.91,370.19 84.59,370.41 85.28,370.02 85.97,369.33 86.65,371.31 87.34,370.94 88.03,370.04 88.71,371.49 89.40,371.07 90.09,373.06 90.77,372.29 91.46,371.66 92.15,372.00 92.83,372.42 93.52,372.97 94.21,374.45 94.89,374.55 95.58,373.61 96.27,372.31 96.95,372.13 97.64,374.39 98.33,373.93 99.01,374.38 99.70,372.83 100.38,372.14 101.07,374.17 101.76,374.43 102.44,373.83 103.13,373.65 103.82,373.00 104.50,373.00 105.19,372.88 105.88,374.83 106.56,374.84 107.25,373.96 107.94,375.33 108.62,374.50 109.31,373.82 110.00,375.07 110.68,376.51 111.37,374.80 112.06,376.25 112.74,375.25 113.43,374.58 114.11,374.32 114.80,374.75 115.49,376.29 116.17,376.39 116.86,377.50 117.55,376.28 118.23,376.06 118.92,375.86 119.61,377.83 120.29,378.67 120.98,377.43 121.67,377.19 122.35,376.79 123.04,377.87 123.73,376.44 124.41,375.93 125.10,376.69 125.78,376.64 126.47,378.34 127.16,378.87 127.84,378.62 128.53,378.88 129.22,379.13 129.90,379.55 130.59,380.22 131.28,378.44 131.96,379.03 132.65,378.03 133.34,378.48 134.02,379.71 134.71,380.64 135.40,380.75 136.08,378.86 136.77,378.98 137.46,378.56 138.14,380.77 138.83,379.46 139.51,379.22 140.20,379.47 140.89,378.75 141.57,380.70 142.26,380.95 142.95,379.76 143.63,380.19 144.32,379.24 145.01,380.32 145.69,379.77 146.38,379.01 147.07,378.92 147.75,380.10 148.44,380.89 149.13,380.40 149.81,381.08 150.50,380.61 151.19,379.81 151.87,379.99 152.56,380.32 153.25,381.93 153.93,380.47 154.62,379.75 155.30,380.78 155.99,382.39 156.68,382.98 157.36,382.70 158.05,380.84 158.74,382.08 159.42,382.33 160.11,380.98 160.80,381.36 161.48,380.45 162.17,382.21 162.86,382.84 163.54,383.43 164.23,383.65 164.92,382.45 165.60,383.43 166.29,382.44 166.97,381.76 167.66,382.23 168.35,382.81 169.03,382.55 169.72,383.40 170.41,383.83 171.09,383.08 171.78,383.87 172.47,383.55 173.15,384.52 173.84,383.79 174.53,384.94 175.21,384.45 175.90,384.68 176.59,385.18 177.27,385.04 177.96,384.32 178.65,386.06 179.33,384.45 180.02,384.43 180.70,385.03 181.39,383.88 182.08,383.73 182.76,385.48 183.45,386.25 184.14,386.21 184.82,386.95 185.51,386.90 186.20,385.63 186.88,386.04 187.57,385.40 188.26,386.28 188.94,385.68 189.63,384.79 190.32,386.47 191.00,386.82 191.69,387.21 192.38,386.96 193.06,387.55 193.75,386.96 194.44,387.11 195.12,385.86 195.81,386.75 196.49,387.96 197.18,388.28 197.87,388.78 198.55,388.23 199.24,389.14 199.93,387.48 200.61,388.92 201.30,388.22 201.99,387.19 202.67,388.25 203.36,388.33 204.05,388.36 204.73,389.60 205.42,388.24 206.11,389.02 206.79,388.87 207.48,389.18 208.16,389.30 208.85,388.39 209.54,389.10 210.22,390.44 210.91,389.14 211.60,388.15 212.28,388.03 212.97,388.92 213.66,390.84 214.34,389.16 215.03,391.08 215.72,390.71 216.40,389.43 217.09,389.72 217.78,389.30 218.46,390.56 219.15,390.68 219.84,390.07 220.52,389.73 221.21,391.32 221.90,391.79 222.58,391.11 223.27,390.76 223.95,391.55 224.64,392.60 225.33,390.62 226.01,389.99 226.70,390.30 227.39,390.88 228.07,389.96 228.76,389.59 229.45,389.84 230.13,390.48 230.82,391.84 231.51,392.16 232.19,390.76 232.88,390.24 233.57,391.21 234.25,392.89 234.94,393.82 235.62,392.78 236.31,393.83 237.00,394.49 237.68,393.40 238.37,393.93 239.06,393.17 239.74,392.31 240.43,393.13 241.12,392.16 241.80,393.37 242.49,394.36 243.18,395.14 243.86,394.23 244.55,392.93 245.24,394.57 245.92,395.26 246.61,395.76 247.30,395.15 247.98,395.09 248.67,394.26 249.35,393.40 250.04,393.35 250.73,394.59 251.41,394.11 252.10,394.97 252.79,394.88 253.47,394.75 254.16,396.19 254.85,394.67 255.53,394.93 256.22,394.20 256.91,396.09 257.59,395.75 258.28,395.21 258.97,394.57 259.65,395.53 260.34,395.43 261.03,394.63 261.71,394.07 262.40,394.76 263.09,395.65 263.77,395.88 264.46,397.06 265.14,397.64 265.83,397.83 266.52,397.77 267.20,396.80 267.89,396.50 268.58,396.03 269.26,395.84 269.95,394.77" fill="none" stroke="#8787fa" stroke-width="1.0" stroke-linejoin="round" />
<line x1="47.00" y1="241.30" x2="47.00" y2="414.50" stroke="#4a4a4a" stroke-width="1.6" />
<line x1="43.80" y1="258.70" x2="47.00" y2="258.70" stroke="#4a4a4a" stroke-width="1.1" />
<line x1="43.80" y1="293.60" x2="47.00" y2="293.60" stroke="#4a4a4a" stroke-width="1.1" />
<line x1="43.80" y1="328.40" x2="47.00" y2="328.40" stroke="#4a4a4a" stroke-width="1.1" />
<line x1="43.80" y1="362.90" x2="47.00" y2="362.90" stroke="#4a4a4a" stroke-width="1.1" />
<line x1="43.80" y1="397.60" x2="47.00" y2="397.60" stroke="#4a4a4a" stroke-width="1.1" />
<line x1="45.00" y1="276.10" x2="47.00" y2="276.10" stroke="#4a4a4a" stroke-width="1.0" />
<line x1="45.00" y1="311.00" x2="47.00" y2="311.00" stroke="#4a4a4a" stroke-width="1.0" />
<line x1="45.00" y1="345.60" x2="47.00" y2="345.60" stroke="#4a4a4a" stroke-width="1.0" />
<line x1="45.00" y1="380.20" x2="47.00" y2="380.20" stroke="#4a4a4a" stroke-width="1.0" />
<line x1="47.00" y1="414.50" x2="286.70" y2="414.50" stroke="#4a4a4a" stroke-width="1.6" />
<line x1="64.00" y1="414.50" x2="64.00" y2="417.70" stroke="#4a4a4a" stroke-width="1.1" />
<line x1="98.33" y1="414.50" x2="98.33" y2="417.70" stroke="#4a4a4a" stroke-width="1.1" />
<line x1="132.65" y1="414.50" x2="132.65" y2="417.70" stroke="#4a4a4a" stroke-width="1.1" />
<line x1="166.97" y1="414.50" x2="166.97" y2="417.70" stroke="#4a4a4a" stroke-width="1.1" />
<line x1="201.30" y1="414.50" x2="201.30" y2="417.70" stroke="#4a4a4a" stroke-width="1.1" />
<line x1="235.62" y1="414.50" x2="235.62" y2="417.70" stroke="#4a4a4a" stroke-width="1.1" />
<line x1="269.95" y1="414.50" x2="269.95" y2="417.70" stroke="#4a4a4a" stroke-width="1.1" />
<line x1="81.16" y1="414.50" x2="81.16" y2="416.50" stroke="#4a4a4a" stroke-width="1.0" />
<line x1="115.49" y1="414.50" x2="115.49" y2="416.50" stroke="#4a4a4a" stroke-width="1.0" />
<line x1="149.81" y1="414.50" x2="149.81" y2="416.50" stroke="#4a4a4a" stroke-width="1.0" />
<line x1="184.14" y1="414.50" x2="184.14" y2="416.50" stroke="#4a4a4a" stroke-width="1.0" />
<line x1="218.46" y1="414.50" x2="218.46" y2="416.50" stroke="#4a4a4a" stroke-width="1.0" />
<line x1="252.79" y1="414.50" x2="252.79" y2="416.50" stroke="#4a4a4a" stroke-width="1.0" />
<line x1="46.84" y1="414.50" x2="46.84" y2="416.50" stroke="#4a4a4a" stroke-width="1.0" />
<text x="41.60" y="262.70" font-size="11.4" text-anchor="end" fill="#1a1a1a" font-weight="bold" font-family='"Liberation Serif", serif' textLength="27.70" lengthAdjust="spacingAndGlyphs" >0. 025</text>
<text x="41.60" y="297.60" font-size="11.4" text-anchor="end" fill="#1a1a1a" font-weight="bold" font-family='"Liberation Serif", serif' textLength="27.70" lengthAdjust="spacingAndGlyphs" >0. 020</text>
<text x="41.60" y="332.40" font-size="11.4" text-anchor="end" fill="#1a1a1a" font-weight="bold" font-family='"Liberation Serif", serif' textLength="27.70" lengthAdjust="spacingAndGlyphs" >0. 015</text>
<text x="41.60" y="366.90" font-size="11.4" text-anchor="end" fill="#1a1a1a" font-weight="bold" font-family='"Liberation Serif", serif' textLength="27.70" lengthAdjust="spacingAndGlyphs" >0. 010</text>
<text x="41.60" y="401.60" font-size="11.4" text-anchor="end" fill="#1a1a1a" font-weight="bold" font-family='"Liberation Serif", serif' textLength="27.70" lengthAdjust="spacingAndGlyphs" >0. 005</text>
<text x="64.00" y="429.60" font-size="11.4" text-anchor="middle" fill="#1a1a1a" font-weight="bold" font-family='"Liberation Serif", serif' textLength="5.10" lengthAdjust="spacingAndGlyphs" >0</text>
<text x="98.33" y="429.60" font-size="11.4" text-anchor="middle" fill="#1a1a1a" font-weight="bold" font-family='"Liberation Serif", serif' textLength="10.20" lengthAdjust="spacingAndGlyphs" >50</text>
<text x="132.65" y="429.60" font-size="11.4" text-anchor="middle" fill="#1a1a1a" font-weight="bold" font-family='"Liberation Serif", serif' textLength="15.30" lengthAdjust="spacingAndGlyphs" >100</text>
<text x="166.97" y="429.60" font-size="11.4" text-anchor="middle" fill="#1a1a1a" font-weight="bold" font-family='"Liberation Serif", serif' textLength="15.30" lengthAdjust="spacingAndGlyphs" >150</text>
<text x="201.30" y="429.60" font-size="11.4" text-anchor="middle" fill="#1a1a1a" font-weight="bold" font-family='"Liberation Serif", serif' textLength="15.30" lengthAdjust="spacingAndGlyphs" >200</text>
<text x="235.62" y="429.60" font-size="11.4" text-anchor="middle" fill="#1a1a1a" font-weight="bold" font-family='"Liberation Serif", serif' textLength="15.30" lengthAdjust="spacingAndGlyphs" >250</text>
<text x="269.95" y="429.60" font-size="11.4" text-anchor="middle" fill="#1a1a1a" font-weight="bold" font-family='"Liberation Serif", serif' textLength="15.30" lengthAdjust="spacingAndGlyphs" >300</text>
<text x="157.50" y="444.50" font-size="10" text-anchor="middle" fill="#555" font-weight="normal" font-family='"Liberation Serif", serif' textLength="26.70" lengthAdjust="spacingAndGlyphs" >Epochs</text>
<text x="-10.70 -5.96 -1.22 3.52 8.26 13.00 17.74 22.48 27.22 31.96" y="344.00" font-size="8.8" text-anchor="middle" fill="#777" font-weight="normal" font-family='"Liberation Serif", serif' transform="rotate(-90 11.00 344.00)" >loss value</text>
<rect x="154.00" y="280.00" width="84.60" height="15.60" fill="white" stroke="#aaa" stroke-width="0.8" />
<line x1="156.00" y1="287.60" x2="181.00" y2="287.60" stroke="#9a9af8" stroke-width="1.2" />
<text x="190.30 195.25 200.20 205.15 210.10 215.05 220.00 224.95 229.90 234.85" y="292.00" font-size="10" text-anchor="middle" fill="#222" font-weight="normal" font-family='"Liberation Serif", serif' stroke="#222" stroke-width="0.3">loss value</text>
<line x1="308.00" y1="234.60" x2="392.60" y2="234.60" stroke="#c4c4ff" stroke-width="1" />
<line x1="392.60" y1="234.40" x2="392.60" y2="415.00" stroke="#c4c4ff" stroke-width="1" />
<polyline points="308.30,415.00 309.10,309.80 309.80,332.00 310.60,282.00 311.40,282.00 312.10,378.00 312.90,282.00 313.70,278.50 314.40,276.60 315.30,250.50 315.80,255.60 316.60,250.20 317.50,254.90 318.50,255.60 319.20,247.60 320.60,242.50 321.40,252.00 322.50,245.10 324.00,245.50 325.30,249.10 326.50,244.40 327.30,247.60 328.50,244.40 329.50,252.00 330.50,245.50 331.50,242.50 332.50,242.20 334.00,241.50 335.00,238.90 336.00,243.60 337.00,240.00 338.00,244.70 339.50,241.50 341.00,240.70 342.40,238.50 344.00,242.20 345.50,240.70 346.50,243.60 347.50,239.60 348.50,238.20 349.50,240.00 350.50,243.30 351.50,239.60 352.50,242.20 353.50,240.70 354.50,244.00 356.00,238.50 357.00,237.80 358.00,238.90 359.50,237.50 360.50,244.70 361.50,240.00 362.50,242.50 363.50,240.70 364.50,242.20 366.00,242.90 367.00,240.40 368.00,238.50 369.50,239.30 370.50,238.50 371.50,240.70 372.50,245.10 373.50,238.90 374.50,237.50 376.00,239.60 377.00,238.20 378.50,238.90 379.50,241.50 380.50,238.20 381.26,239.05 382.03,238.94 382.80,237.39 383.56,238.94 384.33,235.36 385.10,237.13 385.87,237.54 386.64,240.05 387.40,239.55 388.17,236.93 388.94,242.22 389.71,240.30 390.48,235.02 391.24,242.57 392.01,242.31 392.78,234.91 393.55,236.53 394.32,239.05 395.08,239.14 395.85,244.57 396.62,240.56 397.39,238.79 398.16,240.95 398.92,236.68 399.69,239.80 400.46,236.93 401.23,241.81 402.00,239.44 402.76,239.44 403.53,238.64 404.30,236.71 405.07,237.92 405.84,240.36 406.60,238.65 407.37,239.95 408.14,239.83 408.91,238.91 409.68,237.06 410.44,242.25 411.21,239.49 411.98,237.33 412.75,240.05 413.52,241.72 414.28,240.15 415.05,243.04 415.82,239.08 416.59,239.86 417.36,239.00 418.12,238.02 418.89,242.47 419.66,242.74 420.43,241.40 421.20,239.80 421.96,240.84 422.73,241.70 423.50,243.54 424.27,241.58 425.04,237.80 425.80,242.34 426.57,240.14 427.34,241.96 428.11,237.71 428.88,237.46 429.64,241.08 430.41,237.45 431.18,240.48 431.95,239.02 432.72,241.26 433.48,241.74 434.25,243.31 435.02,242.34 435.79,241.33 436.56,243.42 437.32,243.75 438.09,243.75 438.86,239.00 439.63,240.30 440.40,237.56 441.16,239.46 441.93,239.53 442.70,240.73 443.47,238.54 444.24,240.60 445.00,238.33 445.77,240.24 446.54,242.46 447.31,241.32 448.08,243.40 448.84,241.79 449.61,241.31 450.38,239.16 451.15,236.70 451.92,241.23 452.68,239.75 453.45,237.89 454.22,238.30 454.99,241.22 455.76,240.93 456.52,237.64 457.29,239.23 458.06,238.74 458.83,240.88 459.60,238.51 460.36,239.23 461.13,238.05 461.90,240.85 462.67,241.99 463.44,242.66 464.20,240.28 464.97,242.78 465.74,241.87 466.51,239.61 467.28,241.35 468.04,241.98 468.81,242.34 469.58,240.95 470.35,238.77 471.12,241.19 471.88,240.24 472.65,237.10 473.42,239.21 474.19,241.29 474.96,238.37 475.72,237.08 476.49,237.68 477.26,240.49 478.03,240.24 478.80,241.29 479.56,237.85 480.33,242.51 481.10,238.53 481.87,241.16 482.64,242.66 483.40,238.79 484.17,237.93 484.94,242.36 485.71,242.11 486.48,243.28 487.24,239.56 488.01,237.47 488.78,240.67 489.55,241.22 490.32,243.41 491.08,243.64 491.85,243.84 492.62,239.91 493.39,241.93 494.16,240.93 494.92,241.84 495.69,240.57 496.46,239.97 497.23,241.09 498.00,241.94 498.76,238.18 499.53,236.88 500.30,239.42 501.07,240.61 501.84,240.22 502.60,239.96 503.37,237.29 504.14,239.76 504.91,241.06 505.68,237.67 506.44,238.53 507.21,242.00 507.98,240.47 508.75,238.32 509.52,239.26 510.28,241.42 511.05,241.45 511.82,239.17 512.59,239.57 513.36,243.07 514.12,242.21 514.89,239.34 515.66,242.72 516.43,241.61 517.20,240.30 517.96,241.51 518.73,239.48 519.50,242.74 520.27,238.30 521.04,238.08 521.80,237.27 522.57,239.24 523.34,240.18 524.11,241.47 524.88,243.18 525.64,241.11 526.41,241.80 527.18,238.57 527.95,241.99 528.72,243.80 529.48,239.70 530.25,237.29 531.02,240.01 531.79,238.11 532.56,238.50 533.32,238.22 534.09,239.38 534.86,240.27 535.63,239.78 536.40,238.62 537.16,237.33 537.93,237.34 538.70,238.34" fill="none" stroke="#8787fa" stroke-width="1.0" stroke-linejoin="round" />
<rect x="379.80" y="230.90" width="23.90" height="14.40" fill="rgba(200,200,200,0.55)" stroke="#f0a0a0" stroke-width="1" />
<line x1="308.00" y1="230.50" x2="308.00" y2="415.50" stroke="#4a4a4a" stroke-width="1.6" />
<line x1="304.80" y1="415.00" x2="308.00" y2="415.00" stroke="#4a4a4a" stroke-width="1.1" />
<line x1="304.80" y1="378.10" x2="308.00" y2="378.10" stroke="#4a4a4a" stroke-width="1.1" />
<line x1="304.80" y1="341.20" x2="308.00" y2="341.20" stroke="#4a4a4a" stroke-width="1.1" />
<line x1="304.80" y1="304.30" x2="308.00" y2="304.30" stroke="#4a4a4a" stroke-width="1.1" />
<line x1="304.80" y1="267.40" x2="308.00" y2="267.40" stroke="#4a4a4a" stroke-width="1.1" />
<line x1="304.80" y1="230.50" x2="308.00" y2="230.50" stroke="#4a4a4a" stroke-width="1.1" />
<line x1="306.00" y1="396.55" x2="308.00" y2="396.55" stroke="#4a4a4a" stroke-width="1.0" />
<line x1="306.00" y1="359.65" x2="308.00" y2="359.65" stroke="#4a4a4a" stroke-width="1.0" />
<line x1="306.00" y1="322.75" x2="308.00" y2="322.75" stroke="#4a4a4a" stroke-width="1.0" />
<line x1="306.00" y1="285.85" x2="308.00" y2="285.85" stroke="#4a4a4a" stroke-width="1.0" />
<line x1="306.00" y1="248.95" x2="308.00" y2="248.95" stroke="#4a4a4a" stroke-width="1.0" />
<line x1="308.00" y1="415.50" x2="538.20" y2="415.50" stroke="#4a4a4a" stroke-width="1.6" />
<line x1="308.30" y1="415.50" x2="308.30" y2="418.70" stroke="#4a4a4a" stroke-width="1.1" />
<line x1="346.70" y1="415.50" x2="346.70" y2="418.70" stroke="#4a4a4a" stroke-width="1.1" />
<line x1="385.10" y1="415.50" x2="385.10" y2="418.70" stroke="#4a4a4a" stroke-width="1.1" />
<line x1="423.50" y1="415.50" x2="423.50" y2="418.70" stroke="#4a4a4a" stroke-width="1.1" />
<line x1="461.90" y1="415.50" x2="461.90" y2="418.70" stroke="#4a4a4a" stroke-width="1.1" />
<line x1="500.30" y1="415.50" x2="500.30" y2="418.70" stroke="#4a4a4a" stroke-width="1.1" />
<line x1="538.70" y1="415.50" x2="538.70" y2="418.70" stroke="#4a4a4a" stroke-width="1.1" />
<line x1="327.50" y1="415.50" x2="327.50" y2="417.50" stroke="#4a4a4a" stroke-width="1.0" />
<line x1="365.90" y1="415.50" x2="365.90" y2="417.50" stroke="#4a4a4a" stroke-width="1.0" />
<line x1="404.30" y1="415.50" x2="404.30" y2="417.50" stroke="#4a4a4a" stroke-width="1.0" />
<line x1="442.70" y1="415.50" x2="442.70" y2="417.50" stroke="#4a4a4a" stroke-width="1.0" />
<line x1="481.10" y1="415.50" x2="481.10" y2="417.50" stroke="#4a4a4a" stroke-width="1.0" />
<line x1="519.50" y1="415.50" x2="519.50" y2="417.50" stroke="#4a4a4a" stroke-width="1.0" />
<text x="303.00" y="419.00" font-size="11.4" text-anchor="end" fill="#1a1a1a" font-weight="bold" font-family='"Liberation Serif", serif' textLength="17.30" lengthAdjust="spacingAndGlyphs" >0. 0</text>
<text x="303.00" y="382.10" font-size="11.4" text-anchor="end" fill="#1a1a1a" font-weight="bold" font-family='"Liberation Serif", serif' textLength="17.30" lengthAdjust="spacingAndGlyphs" >0. 2</text>
<text x="303.00" y="345.20" font-size="11.4" text-anchor="end" fill="#1a1a1a" font-weight="bold" font-family='"Liberation Serif", serif' textLength="17.30" lengthAdjust="spacingAndGlyphs" >0. 4</text>
<text x="303.00" y="308.30" font-size="11.4" text-anchor="end" fill="#1a1a1a" font-weight="bold" font-family='"Liberation Serif", serif' textLength="17.30" lengthAdjust="spacingAndGlyphs" >0. 6</text>
<text x="303.00" y="271.40" font-size="11.4" text-anchor="end" fill="#1a1a1a" font-weight="bold" font-family='"Liberation Serif", serif' textLength="17.30" lengthAdjust="spacingAndGlyphs" >0. 8</text>
<text x="303.00" y="234.50" font-size="11.4" text-anchor="end" fill="#1a1a1a" font-weight="bold" font-family='"Liberation Serif", serif' textLength="17.30" lengthAdjust="spacingAndGlyphs" >1. 0</text>
<text x="308.30" y="430.30" font-size="11.4" text-anchor="middle" fill="#1a1a1a" font-weight="bold" font-family='"Liberation Serif", serif' textLength="5.10" lengthAdjust="spacingAndGlyphs" >0</text>
<text x="346.70" y="430.30" font-size="11.4" text-anchor="middle" fill="#1a1a1a" font-weight="bold" font-family='"Liberation Serif", serif' textLength="10.20" lengthAdjust="spacingAndGlyphs" >50</text>
<text x="385.10" y="430.30" font-size="11.4" text-anchor="middle" fill="#1a1a1a" font-weight="bold" font-family='"Liberation Serif", serif' textLength="15.30" lengthAdjust="spacingAndGlyphs" >100</text>
<text x="423.50" y="430.30" font-size="11.4" text-anchor="middle" fill="#1a1a1a" font-weight="bold" font-family='"Liberation Serif", serif' textLength="15.30" lengthAdjust="spacingAndGlyphs" >150</text>
<text x="461.90" y="430.30" font-size="11.4" text-anchor="middle" fill="#1a1a1a" font-weight="bold" font-family='"Liberation Serif", serif' textLength="15.30" lengthAdjust="spacingAndGlyphs" >200</text>
<text x="500.30" y="430.30" font-size="11.4" text-anchor="middle" fill="#1a1a1a" font-weight="bold" font-family='"Liberation Serif", serif' textLength="15.30" lengthAdjust="spacingAndGlyphs" >250</text>
<text x="538.70" y="430.30" font-size="11.4" text-anchor="middle" fill="#1a1a1a" font-weight="bold" font-family='"Liberation Serif", serif' textLength="15.30" lengthAdjust="spacingAndGlyphs" >300</text>
<text x="425.50" y="445.00" font-size="10" text-anchor="middle" fill="#222" font-weight="bold" font-family='"Liberation Serif", serif' textLength="28.50" lengthAdjust="spacingAndGlyphs" >Epochs</text>
<text x="278.30" y="324.90" font-size="11.5" text-anchor="middle" fill="#666" font-weight="normal" font-family='"Liberation Serif", serif' textLength="10.80" lengthAdjust="spacingAndGlyphs" transform="rotate(-90 278.3 324.9)">AP</text>
<line x1="404.40" y1="248.60" x2="446.37" y2="282.78" stroke="#111" stroke-width="1.3" />
<polygon points="451.80,287.20 444.48,285.11 448.27,280.45" fill="#111"/>
<rect x="454.40" y="247.90" width="74.30" height="24.50" fill="white" stroke="#aaa" stroke-width="0.8" />
<line x1="457.70" y1="260.00" x2="496.00" y2="260.00" stroke="#9a9af8" stroke-width="1.2" />
<text x="506.20" y="267.60" font-size="19" text-anchor="start" fill="#2a2a2a" font-weight="normal" font-family='"Liberation Serif", serif' textLength="19.00" lengthAdjust="spacingAndGlyphs" >AP</text>
<text x="396.50 400.42 404.34 408.26 412.18 416.10 420.02 423.94 427.86 431.78" y="277.50" font-size="8.5" text-anchor="middle" fill="#555" font-weight="normal" font-family='"Liberation Serif", serif' >peak value</text>
<line x1="396.00" y1="286.70" x2="396.00" y2="383.00" stroke="#555" stroke-width="1.1" />
<line x1="396.00" y1="383.00" x2="533.30" y2="383.00" stroke="#444" stroke-width="1.3" />
<line x1="393.50" y1="292.30" x2="396.00" y2="292.30" stroke="#555" stroke-width="0.9" />
<text x="393.40" y="294.70" font-size="6.8" text-anchor="end" fill="#222" font-weight="normal" font-family='"Liberation Serif", serif' textLength="12.40" lengthAdjust="spacingAndGlyphs" stroke="#222" stroke-width="0.2">0. 99</text>
<line x1="393.50" y1="304.50" x2="396.00" y2="304.50" stroke="#555" stroke-width="0.9" />
<text x="393.40" y="306.90" font-size="6.8" text-anchor="end" fill="#222" font-weight="normal" font-family='"Liberation Serif", serif' textLength="12.40" lengthAdjust="spacingAndGlyphs" stroke="#222" stroke-width="0.2">0. 98</text>
<line x1="393.50" y1="316.70" x2="396.00" y2="316.70" stroke="#555" stroke-width="0.9" />
<text x="393.40" y="319.10" font-size="6.8" text-anchor="end" fill="#222" font-weight="normal" font-family='"Liberation Serif", serif' textLength="12.40" lengthAdjust="spacingAndGlyphs" stroke="#222" stroke-width="0.2">0. 97</text>
<line x1="393.50" y1="328.90" x2="396.00" y2="328.90" stroke="#555" stroke-width="0.9" />
<text x="393.40" y="331.30" font-size="6.8" text-anchor="end" fill="#222" font-weight="normal" font-family='"Liberation Serif", serif' textLength="12.40" lengthAdjust="spacingAndGlyphs" stroke="#222" stroke-width="0.2">0. 96</text>
<line x1="393.50" y1="341.10" x2="396.00" y2="341.10" stroke="#555" stroke-width="0.9" />
<text x="393.40" y="343.50" font-size="6.8" text-anchor="end" fill="#222" font-weight="normal" font-family='"Liberation Serif", serif' textLength="12.40" lengthAdjust="spacingAndGlyphs" stroke="#222" stroke-width="0.2">0. 95</text>
<line x1="393.50" y1="353.30" x2="396.00" y2="353.30" stroke="#555" stroke-width="0.9" />
<text x="393.40" y="355.70" font-size="6.8" text-anchor="end" fill="#222" font-weight="normal" font-family='"Liberation Serif", serif' textLength="12.40" lengthAdjust="spacingAndGlyphs" stroke="#222" stroke-width="0.2">0. 94</text>
<line x1="393.50" y1="365.50" x2="396.00" y2="365.50" stroke="#555" stroke-width="0.9" />
<text x="393.40" y="367.90" font-size="6.8" text-anchor="end" fill="#222" font-weight="normal" font-family='"Liberation Serif", serif' textLength="12.40" lengthAdjust="spacingAndGlyphs" stroke="#222" stroke-width="0.2">0. 93</text>
<line x1="393.50" y1="377.70" x2="396.00" y2="377.70" stroke="#555" stroke-width="0.9" />
<text x="393.40" y="380.10" font-size="6.8" text-anchor="end" fill="#222" font-weight="normal" font-family='"Liberation Serif", serif' textLength="12.40" lengthAdjust="spacingAndGlyphs" stroke="#222" stroke-width="0.2">0. 92</text>
<line x1="400.70" y1="383.00" x2="400.70" y2="385.50" stroke="#555" stroke-width="0.9" />
<text x="400.70" y="390.80" font-size="7.4" text-anchor="middle" fill="#222" font-weight="normal" font-family='"Liberation Serif", serif' stroke="#222" stroke-width="0.15">95</text>
<line x1="423.22" y1="383.00" x2="423.22" y2="385.50" stroke="#555" stroke-width="0.9" />
<text x="423.22" y="390.80" font-size="7.4" text-anchor="middle" fill="#222" font-weight="normal" font-family='"Liberation Serif", serif' stroke="#222" stroke-width="0.15">100</text>
<line x1="445.74" y1="383.00" x2="445.74" y2="385.50" stroke="#555" stroke-width="0.9" />
<text x="445.74" y="390.80" font-size="7.4" text-anchor="middle" fill="#222" font-weight="normal" font-family='"Liberation Serif", serif' stroke="#222" stroke-width="0.15">105</text>
<line x1="468.26" y1="383.00" x2="468.26" y2="385.50" stroke="#555" stroke-width="0.9" />
<text x="468.26" y="390.80" font-size="7.4" text-anchor="middle" fill="#222" font-weight="normal" font-family='"Liberation Serif", serif' stroke="#222" stroke-width="0.15">110</text>
<line x1="490.78" y1="383.00" x2="490.78" y2="385.50" stroke="#555" stroke-width="0.9" />
<text x="490.78" y="390.80" font-size="7.4" text-anchor="middle" fill="#222" font-weight="normal" font-family='"Liberation Serif", serif' stroke="#222" stroke-width="0.15">115</text>
<line x1="513.30" y1="383.00" x2="513.30" y2="385.50" stroke="#555" stroke-width="0.9" />
<text x="513.30" y="390.80" font-size="7.4" text-anchor="middle" fill="#222" font-weight="normal" font-family='"Liberation Serif", serif' stroke="#222" stroke-width="0.15">120</text>
<text x="462.00" y="402.00" font-size="10" text-anchor="middle" fill="#666" font-weight="normal" font-family='"Liberation Serif", serif' textLength="27.40" lengthAdjust="spacingAndGlyphs" >Epochs</text>
<line x1="396.00" y1="309.00" x2="468.30" y2="309.00" stroke="#b8b8ff" stroke-width="1" />
<line x1="468.30" y1="309.00" x2="468.30" y2="383.00" stroke="#c4c4ff" stroke-width="1" />
<polyline points="396.00,328.30 400.70,336.70 405.00,336.00 410.00,325.70 415.00,336.00 419.30,312.30 424.00,324.00 428.30,326.70 432.70,343.30 437.30,340.00 441.70,322.70 446.00,357.70 450.70,345.00 455.00,310.00 459.30,360.00 464.00,358.30 468.30,309.30 472.70,320.00 477.30,336.70 481.70,337.30 486.00,373.30 490.70,346.70 495.00,335.00 499.30,349.30 504.00,321.00 508.30,341.70 512.70,322.70 517.30,355.00 521.70,339.30 526.70,339.30 531.70,331.70 533.30,334.00" fill="none" stroke="#9a9af5" stroke-width="0.9" stroke-linejoin="round" />
<text x="412.80" y="304.20" font-size="11.5" text-anchor="start" fill="#222" font-weight="normal" font-family='"Liberation Serif", serif' >(</text>
<text x="421.40 427.23 433.06 438.89 444.72 450.55 456.38 462.21 468.04 473.87" y="303.70" font-size="11" text-anchor="middle" fill="#111" font-weight="normal" font-family='"Liberation Serif", serif' stroke="#111" stroke-width="0.45">110,0.9766</text>
<text x="477.60" y="304.20" font-size="11.5" text-anchor="start" fill="#222" font-weight="normal" font-family='"Liberation Serif", serif' >)</text>
<rect x="493.30" y="297.30" width="17.40" height="6.00" fill="white" stroke="#aaa" stroke-width="0.6" />
<line x1="494.50" y1="300.30" x2="503.00" y2="300.30" stroke="#9a9af8" stroke-width="0.8" />
<text x="504.00" y="302.30" font-size="4" text-anchor="start" fill="#666" font-weight="normal" font-family='"Liberation Serif", serif' >AP</text>
<text x="379.00" y="334.60" font-size="4.5" text-anchor="middle" fill="#666" font-weight="normal" font-family='"Liberation Serif", serif' textLength="14.70" lengthAdjust="spacingAndGlyphs" transform="rotate(-90 379 334.6)">mAP@0.5</text>
</svg></body></html>
